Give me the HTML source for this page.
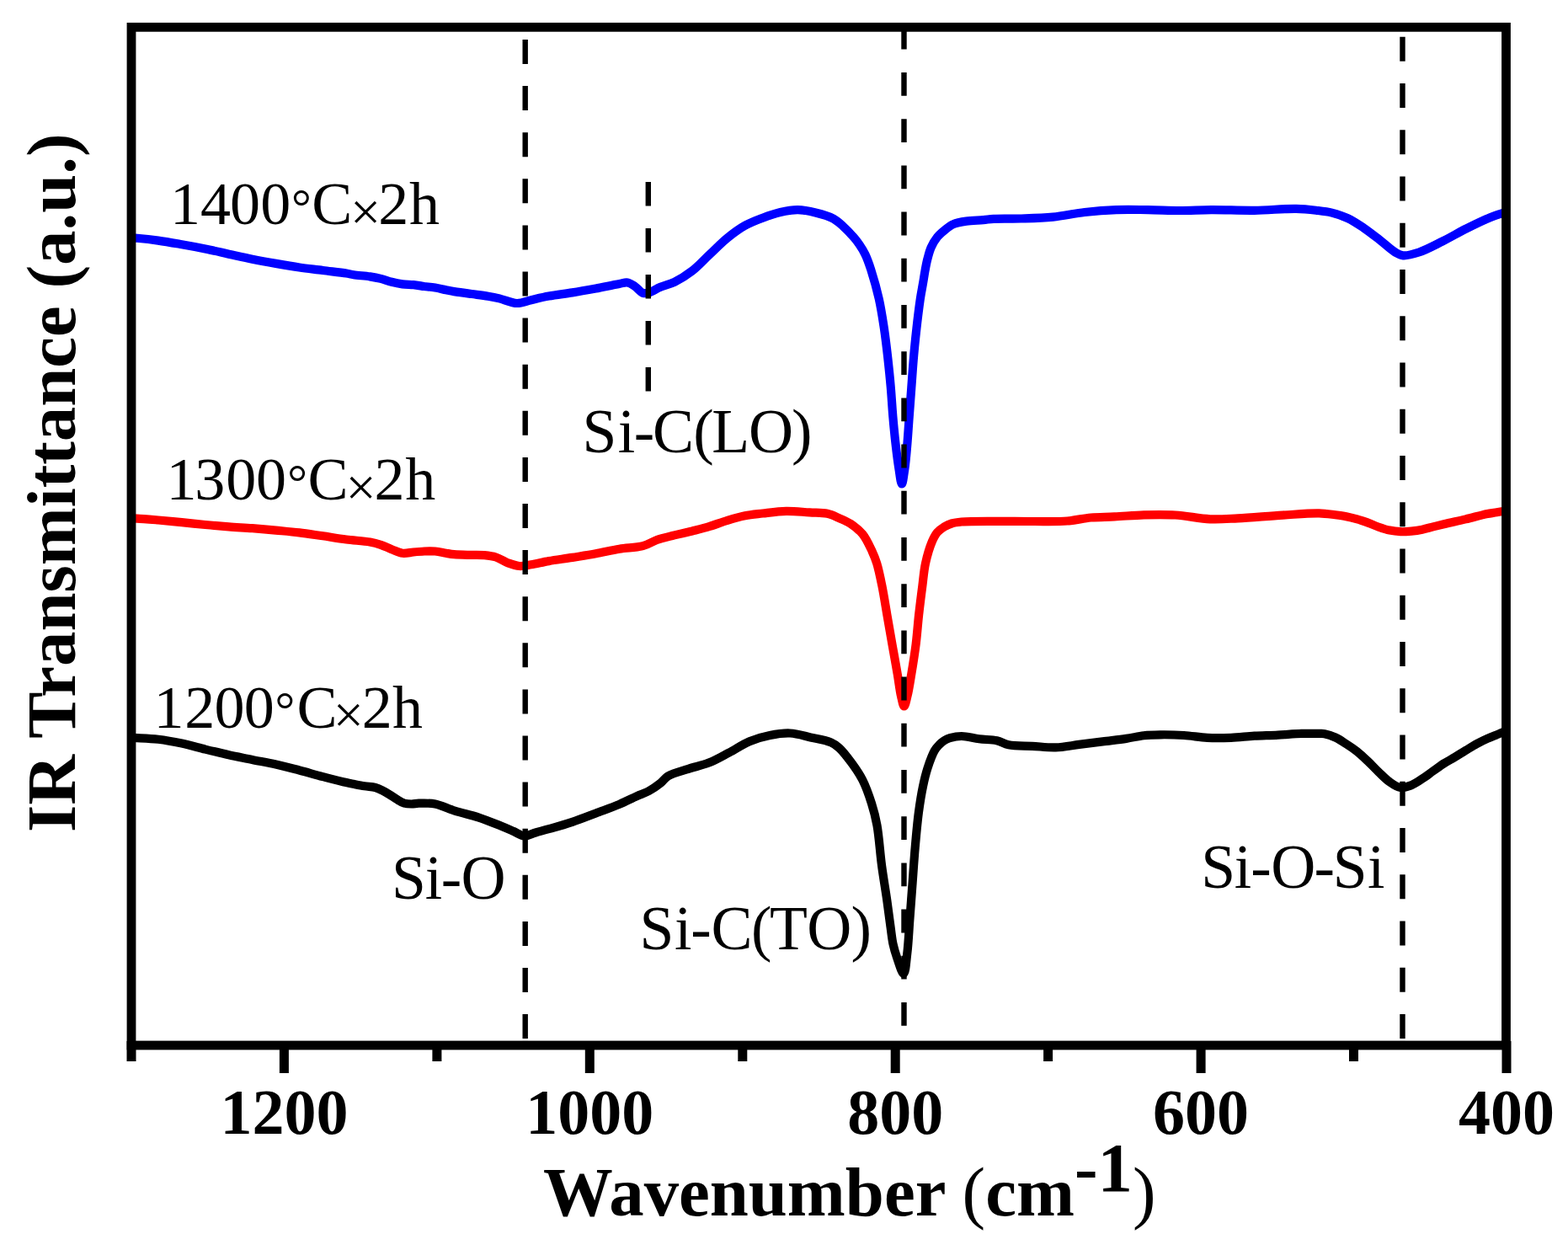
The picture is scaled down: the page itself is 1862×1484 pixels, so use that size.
<!DOCTYPE html>
<html><head><meta charset="utf-8"><title>IR Transmittance</title>
<style>
html,body{margin:0;padding:0;background:#fff;}
body{width:1862px;height:1484px;overflow:hidden;}
svg{display:block;}
</style></head><body>
<svg width="1862" height="1484" viewBox="0 0 1862 1484" font-family="'Liberation Serif','Times New Roman',serif" fill="#000">
<rect x="0" y="0" width="1862" height="1484" fill="#fff"/>
<path d="M156.0,282.4 C158.3,282.5 159.8,282.5 162.8,282.8 C168.5,283.3 179.3,284.4 187.9,285.6 C197.0,286.9 206.6,288.6 215.9,290.2 C225.2,291.8 234.5,293.5 243.8,295.4 C253.1,297.3 262.4,299.6 271.7,301.7 C281.0,303.7 290.3,305.8 299.6,307.7 C308.9,309.6 318.3,311.3 327.6,312.9 C336.9,314.5 346.2,316.1 355.5,317.5 C364.8,318.8 374.1,319.8 383.4,321.0 C392.7,322.2 404.7,323.4 411.3,324.5 C415.0,325.1 416.5,325.8 420.0,326.3 C425.2,327.1 433.5,327.5 439.3,328.4 C444.0,329.1 447.9,329.8 452.2,330.9 C456.5,332.0 460.8,333.7 465.1,334.8 C469.4,335.9 473.7,336.8 478.0,337.4 C482.3,338.0 486.6,337.8 490.9,338.2 C495.2,338.6 499.5,339.4 503.8,340.0 C508.1,340.5 512.4,340.8 516.7,341.5 C521.0,342.2 525.6,343.4 529.6,344.2 C533.0,344.9 535.4,345.5 539.2,346.1 C544.8,347.0 553.2,348.1 560.0,349.0 C566.6,349.9 573.7,350.7 579.6,351.7 C584.5,352.5 588.1,353.2 593.0,354.4 C599.2,355.9 607.4,359.9 614.0,360.0 C619.9,360.1 624.9,357.5 630.8,356.2 C637.4,354.7 644.2,353.0 651.7,351.6 C660.3,350.0 670.3,348.9 679.6,347.4 C688.9,345.9 698.3,344.2 707.6,342.5 C716.9,340.7 728.6,338.1 735.5,336.9 C739.6,336.2 742.2,335.0 745.2,335.5 C748.2,336.0 750.8,337.9 753.6,339.7 C756.9,341.8 760.2,346.8 763.4,347.8 C765.8,348.6 767.7,348.1 770.4,347.4 C774.3,346.4 779.4,342.8 784.3,340.8 C789.5,338.6 795.2,337.6 800.9,334.8 C807.7,331.5 815.1,326.8 821.9,321.6 C829.2,316.0 835.8,308.5 842.8,302.0 C849.8,295.5 856.6,288.3 863.8,282.5 C870.6,277.0 877.5,271.8 884.7,267.8 C891.5,264.0 898.6,261.4 905.7,258.7 C912.6,256.1 919.6,253.6 926.6,252.0 C933.5,250.4 940.5,249.1 947.5,249.2 C954.5,249.3 961.6,250.8 968.5,252.5 C975.5,254.2 983.7,256.4 989.4,259.5 C994.1,262.0 997.2,265.1 1001.0,268.5 C1005.3,272.4 1010.4,277.7 1013.9,281.8 C1016.6,284.9 1018.5,287.3 1020.6,290.5 C1023.0,294.0 1025.3,297.6 1027.4,302.0 C1029.9,307.2 1031.9,312.9 1034.2,320.0 C1037.3,329.7 1041.2,343.3 1043.8,355.0 C1046.4,366.6 1048.1,378.3 1049.9,390.0 C1051.6,401.7 1053.0,413.4 1054.3,425.1 C1055.6,436.8 1056.8,448.4 1057.8,460.1 C1058.8,471.8 1059.4,483.4 1060.4,495.1 C1061.4,506.8 1062.6,519.4 1063.9,530.2 C1065.0,539.6 1066.1,548.5 1067.4,556.4 C1068.5,563.0 1069.7,574.5 1070.9,574.5 C1072.1,574.5 1073.4,563.0 1074.4,556.4 C1075.6,548.5 1076.3,539.6 1077.1,530.2 C1078.1,519.4 1078.8,506.8 1079.7,495.1 C1080.6,483.4 1081.4,471.8 1082.3,460.1 C1083.2,448.4 1083.9,436.8 1084.9,425.1 C1085.9,413.4 1087.1,401.7 1088.4,390.0 C1089.7,378.3 1091.4,364.6 1092.8,355.0 C1093.8,348.2 1094.8,343.4 1095.8,337.7 C1096.8,332.1 1097.6,326.2 1098.6,320.9 C1099.5,316.1 1100.2,311.9 1101.4,307.4 C1102.6,302.9 1103.7,298.2 1105.6,293.9 C1107.5,289.6 1110.1,285.1 1112.9,281.6 C1115.5,278.4 1118.4,276.0 1121.5,273.5 C1124.8,270.9 1128.1,268.0 1132.2,266.2 C1136.7,264.2 1141.9,263.4 1147.4,262.6 C1153.6,261.7 1161.7,261.7 1167.6,261.2 C1172.2,260.8 1174.9,260.1 1180.0,259.8 C1188.3,259.3 1201.5,259.8 1212.8,259.5 C1224.9,259.1 1237.9,258.8 1250.4,257.6 C1263.0,256.3 1275.4,253.4 1288.0,252.0 C1300.5,250.6 1313.1,249.6 1325.6,249.1 C1338.1,248.6 1350.7,249.0 1363.2,249.1 C1375.7,249.2 1388.3,250.0 1400.8,250.0 C1413.3,250.0 1424.8,249.2 1438.3,249.1 C1454.1,249.0 1472.6,250.0 1489.6,249.8 C1506.3,249.6 1525.8,247.5 1539.3,247.8 C1548.6,248.0 1555.4,248.8 1562.8,249.7 C1569.4,250.5 1575.4,251.1 1581.6,252.6 C1587.9,254.2 1594.3,256.2 1600.4,259.1 C1606.8,262.1 1613.0,266.3 1619.2,270.4 C1625.6,274.7 1631.8,279.7 1638.0,284.5 C1644.3,289.4 1651.4,296.3 1656.8,299.5 C1660.3,301.5 1662.5,303.0 1666.2,303.3 C1671.3,303.8 1678.2,301.7 1685.0,299.5 C1693.6,296.7 1703.9,291.0 1713.2,286.4 C1722.7,281.7 1731.9,276.1 1741.4,271.4 C1750.7,266.7 1761.0,261.6 1769.5,258.2 C1776.2,255.5 1781.8,253.9 1788.0,251.8" fill="none" stroke="#0000ff" stroke-width="10.2" stroke-linejoin="round" stroke-linecap="butt"/>
<path d="M156.0,615.3 C158.3,615.4 159.8,615.4 162.8,615.6 C168.5,615.9 179.3,616.8 187.9,617.5 C197.0,618.3 206.6,619.3 215.9,620.2 C225.2,621.1 234.5,622.1 243.8,623.0 C253.1,623.9 262.4,624.7 271.7,625.4 C281.0,626.1 290.3,626.5 299.6,627.2 C308.9,627.9 318.3,628.7 327.6,629.6 C336.9,630.5 346.2,631.3 355.5,632.4 C364.8,633.5 374.1,635.0 383.4,636.3 C392.7,637.7 402.0,639.3 411.3,640.5 C420.6,641.7 431.8,642.1 439.3,643.5 C444.5,644.4 448.0,645.4 452.2,646.8 C456.6,648.3 460.8,650.5 465.1,652.2 C469.4,653.8 473.6,656.2 478.0,656.7 C482.2,657.2 486.6,655.9 490.9,655.5 C495.2,655.1 499.5,654.7 503.8,654.5 C508.1,654.3 512.4,654.1 516.7,654.5 C521.0,654.9 525.6,656.0 529.6,656.7 C533.0,657.3 535.6,657.9 539.2,658.2 C543.8,658.6 549.4,658.7 555.0,658.8 C561.3,659.0 568.9,658.5 574.9,659.1 C580.0,659.6 584.3,660.0 588.9,661.5 C593.7,663.0 598.1,666.4 602.8,668.2 C607.4,669.9 612.1,671.7 616.8,672.0 C621.4,672.3 625.7,671.1 630.8,670.3 C637.1,669.3 644.2,667.4 651.7,666.1 C660.3,664.6 670.3,663.4 679.6,661.9 C688.9,660.4 698.3,659.0 707.6,657.3 C716.9,655.6 726.2,653.2 735.5,651.7 C744.8,650.2 755.4,650.4 763.4,648.2 C769.8,646.5 774.1,643.1 780.0,641.0 C786.5,638.7 793.9,637.2 800.9,635.4 C807.9,633.7 814.9,632.2 821.9,630.5 C828.9,628.7 835.9,627.0 842.8,624.9 C849.8,622.8 856.8,620.0 863.8,617.9 C870.7,615.8 877.7,613.7 884.7,612.3 C891.6,610.9 898.2,610.4 905.7,609.5 C914.3,608.5 924.3,607.0 933.6,606.8 C942.9,606.6 952.9,607.9 961.5,608.4 C969.0,608.9 976.3,608.4 982.5,609.8 C987.7,610.9 991.8,613.1 996.4,615.1 C1001.1,617.2 1005.9,619.1 1010.4,622.1 C1015.2,625.3 1020.3,629.1 1024.3,634.0 C1028.8,639.5 1032.5,647.9 1035.5,654.2 C1037.9,659.4 1039.5,663.1 1041.2,668.8 C1043.5,676.2 1045.4,685.7 1047.3,695.1 C1049.5,705.9 1051.4,718.4 1053.4,730.1 C1055.4,741.8 1057.5,753.4 1059.5,765.1 C1061.6,776.8 1063.9,789.3 1065.7,800.2 C1067.3,809.6 1068.4,819.4 1070.0,826.4 C1071.1,831.2 1072.4,838.5 1073.6,838.5 C1074.9,838.5 1076.3,831.3 1077.5,826.4 C1079.3,819.4 1080.7,809.6 1082.3,800.2 C1084.1,789.4 1086.1,776.8 1087.6,765.1 C1089.1,753.4 1089.8,741.8 1091.1,730.1 C1092.4,718.4 1094.0,705.9 1095.4,695.1 C1096.6,685.7 1097.1,677.5 1099.0,668.8 C1100.9,660.1 1104.0,649.7 1106.8,643.0 C1108.8,638.4 1110.5,635.0 1113.0,632.0 C1115.3,629.3 1118.1,627.5 1120.9,625.7 C1123.7,624.0 1126.7,622.5 1130.0,621.5 C1133.6,620.4 1136.7,620.0 1141.9,619.5 C1151.6,618.6 1169.8,618.9 1183.8,618.8 C1197.8,618.7 1211.7,619.1 1225.7,619.0 C1239.6,618.9 1255.0,619.5 1267.5,618.5 C1277.8,617.7 1286.2,615.3 1295.5,614.5 C1304.8,613.7 1313.6,613.9 1323.4,613.4 C1334.4,612.9 1346.5,611.6 1358.3,611.3 C1370.5,611.0 1382.9,610.7 1395.7,611.5 C1409.1,612.3 1424.0,615.7 1437.0,616.3 C1448.6,616.8 1457.7,615.9 1470.0,615.3 C1485.6,614.5 1506.4,612.6 1523.2,611.6 C1538.3,610.7 1554.9,609.1 1566.4,609.4 C1574.2,609.6 1580.0,610.6 1585.8,611.3 C1590.5,611.9 1594.4,612.4 1598.7,613.2 C1603.0,614.1 1607.3,615.2 1611.6,616.4 C1615.9,617.6 1620.1,619.1 1624.4,620.6 C1628.7,622.2 1633.0,624.2 1637.3,625.7 C1641.6,627.2 1645.9,628.7 1650.2,629.6 C1654.5,630.5 1658.8,631.0 1663.1,631.2 C1667.4,631.4 1671.7,631.0 1676.0,630.6 C1680.3,630.2 1684.6,629.6 1688.9,628.7 C1693.2,627.8 1697.5,626.5 1701.8,625.4 C1706.1,624.3 1709.7,623.4 1714.7,622.2 C1721.8,620.5 1731.9,618.4 1740.5,616.4 C1749.1,614.4 1758.0,611.7 1766.2,610.0 C1773.7,608.5 1780.7,607.7 1788.0,606.5" fill="none" stroke="#ff0000" stroke-width="10.2" stroke-linejoin="round" stroke-linecap="butt"/>
<path d="M156.0,875.8 C158.3,875.9 159.8,875.9 162.8,876.1 C168.5,876.4 179.3,876.7 187.9,877.7 C197.0,878.8 206.6,880.6 215.9,882.6 C225.2,884.6 234.5,887.3 243.8,889.6 C253.1,891.9 262.4,894.2 271.7,896.3 C281.0,898.3 290.3,900.0 299.6,901.9 C308.9,903.8 318.3,905.4 327.6,907.5 C336.9,909.6 346.2,912.1 355.5,914.5 C364.8,916.9 374.1,919.7 383.4,922.1 C392.7,924.5 404.6,927.6 411.3,929.1 C415.0,929.9 416.8,930.2 420.0,930.8 C423.9,931.6 428.6,932.6 432.9,933.3 C437.2,934.0 442.0,934.0 445.8,935.0 C449.0,935.9 451.6,937.2 454.4,938.6 C457.3,940.0 460.2,941.8 463.0,943.6 C465.9,945.4 468.7,947.5 471.6,949.2 C474.4,950.9 477.3,952.8 480.2,953.7 C483.0,954.5 485.9,954.5 488.7,954.5 C491.6,954.5 493.9,953.8 497.3,953.7 C502.5,953.6 510.1,953.2 516.8,954.5 C524.3,955.9 531.9,960.1 540.0,962.6 C548.8,965.4 558.7,967.3 567.9,970.3 C577.3,973.4 588.2,977.9 595.9,981.0 C601.4,983.2 605.4,985.0 610.0,987.0 C614.3,988.9 618.3,992.2 622.6,992.5 C627.0,992.8 631.3,989.8 636.0,988.5 C641.0,987.1 645.7,985.9 651.7,984.2 C659.7,981.9 670.3,978.9 679.6,975.8 C689.0,972.7 698.3,968.9 707.6,965.4 C716.9,961.9 726.9,958.5 735.5,954.9 C743.0,951.7 750.1,947.9 756.4,945.1 C761.5,942.8 765.9,941.6 770.4,939.1 C775.2,936.5 780.3,933.0 784.3,929.8 C787.8,927.0 789.2,923.8 793.3,921.3 C799.2,917.7 809.4,915.4 817.5,912.8 C825.5,910.2 833.8,908.7 841.7,905.6 C849.9,902.4 857.8,897.7 865.8,893.5 C873.9,889.2 881.7,883.7 890.0,880.2 C897.9,876.9 906.1,874.6 914.2,873.0 C922.2,871.4 930.3,870.1 938.3,870.5 C946.4,870.9 954.5,873.6 962.5,875.4 C970.6,877.2 980.6,878.7 986.7,881.4 C990.9,883.2 993.1,884.9 996.4,887.8 C1000.9,891.8 1005.9,898.4 1010.4,904.5 C1015.3,911.1 1020.3,918.1 1024.3,926.0 C1028.6,934.5 1032.1,944.7 1035.0,953.9 C1037.8,962.7 1039.7,970.0 1041.5,980.0 C1043.9,993.4 1045.0,1012.0 1047.0,1027.2 C1048.9,1041.6 1051.5,1056.1 1053.3,1069.0 C1054.9,1080.2 1056.2,1090.9 1057.5,1100.3 C1058.6,1108.0 1059.2,1114.9 1060.6,1121.2 C1061.8,1126.6 1063.0,1130.7 1064.8,1135.9 C1067.0,1142.1 1071.0,1156.2 1073.1,1156.0 C1075.3,1155.8 1076.2,1140.9 1077.3,1131.7 C1078.8,1119.7 1079.4,1103.8 1080.5,1089.9 C1081.5,1076.0 1082.6,1062.0 1083.6,1048.1 C1084.6,1034.2 1085.5,1020.2 1086.7,1006.3 C1087.9,992.4 1089.2,977.4 1090.9,964.5 C1092.4,953.3 1094.1,942.5 1096.1,933.1 C1097.7,925.4 1099.2,919.1 1101.4,912.2 C1103.7,905.2 1106.9,896.2 1109.7,891.3 C1111.4,888.3 1113.0,886.5 1115.0,884.5 C1116.9,882.5 1119.0,880.7 1121.2,879.3 C1123.3,878.0 1125.2,877.0 1127.9,876.2 C1131.7,875.1 1136.8,874.0 1141.9,874.0 C1148.2,874.0 1155.8,876.4 1162.8,877.3 C1169.8,878.2 1177.6,877.8 1183.8,879.2 C1189.0,880.4 1192.2,883.2 1197.7,884.3 C1205.3,885.9 1216.4,885.3 1225.7,885.8 C1235.0,886.3 1244.3,887.7 1253.6,887.4 C1262.9,887.1 1272.2,885.1 1281.5,883.9 C1290.8,882.7 1300.1,881.6 1309.4,880.4 C1318.7,879.2 1328.8,878.2 1337.4,876.9 C1344.9,875.8 1351.4,874.0 1358.3,873.2 C1364.9,872.5 1370.8,872.4 1377.9,872.3 C1386.4,872.2 1396.6,872.4 1405.9,873.0 C1415.2,873.6 1424.5,875.3 1433.8,875.8 C1443.1,876.3 1452.4,876.1 1461.7,875.8 C1471.0,875.5 1480.3,874.2 1489.6,873.7 C1498.9,873.2 1508.3,873.1 1517.6,872.6 C1526.9,872.1 1536.9,871.2 1545.5,870.9 C1553.0,870.7 1561.4,870.8 1566.4,870.9 C1569.2,871.0 1570.4,870.7 1572.9,871.2 C1576.5,871.9 1581.6,873.6 1585.8,875.5 C1590.2,877.5 1594.4,880.5 1598.7,883.2 C1603.1,886.0 1607.4,888.9 1611.6,892.2 C1616.0,895.7 1620.2,899.8 1624.4,903.8 C1628.7,907.9 1632.9,912.6 1637.3,916.7 C1641.5,920.7 1645.7,925.2 1650.2,928.3 C1654.3,931.2 1658.7,934.4 1663.1,935.0 C1667.3,935.6 1671.8,933.8 1676.0,932.2 C1680.4,930.4 1684.7,927.3 1688.9,924.5 C1693.3,921.7 1697.5,918.4 1701.8,915.4 C1706.1,912.4 1710.3,909.2 1714.7,906.4 C1718.9,903.7 1723.3,901.5 1727.6,898.9 C1731.9,896.3 1736.2,893.5 1740.5,890.9 C1744.8,888.3 1749.0,885.6 1753.3,883.2 C1757.5,880.9 1761.9,878.7 1766.2,876.8 C1770.5,874.9 1775.2,873.2 1779.1,871.6 C1782.3,870.3 1785.0,869.2 1788.0,868.0" fill="none" stroke="#000000" stroke-width="10.2" stroke-linejoin="round" stroke-linecap="butt"/>
<path d="M623.7,47.0 V76.0 M623.7,102.1 V131.1 M623.7,157.2 V186.2 M623.7,212.3 V241.3 M623.7,267.4 V296.4 M623.7,322.5 V351.5 M623.7,377.6 V406.6 M623.7,432.7 V461.7 M623.7,487.8 V516.8 M623.7,542.9 V571.9 M623.7,598.0 V627.0 M623.7,653.1 V682.1 M623.7,708.2 V737.2 M623.7,763.3 V792.3 M623.7,818.4 V847.4 M623.7,873.5 V902.5 M623.7,928.6 V957.6 M623.7,983.7 V1012.7 M623.7,1038.8 V1067.8 M623.7,1093.9 V1122.9 M623.7,1149.0 V1178.0 M623.7,1204.1 V1233.1 M1073.5,30.8 V58.6 M1073.5,86.0 V113.8 M1073.5,141.2 V169.0 M1073.5,196.4 V224.2 M1073.5,251.6 V279.4 M1073.5,306.8 V334.6 M1073.5,362.0 V389.8 M1073.5,417.2 V445.0 M1073.5,472.4 V500.2 M1073.5,527.6 V555.4 M1073.5,582.8 V610.6 M1073.5,638.0 V665.8 M1073.5,693.2 V721.0 M1073.5,748.4 V776.2 M1073.5,803.6 V831.4 M1073.5,858.8 V886.6 M1073.5,914.0 V941.8 M1073.5,969.2 V997.0 M1073.5,1024.4 V1052.2 M1073.5,1079.6 V1107.4 M1073.5,1134.8 V1162.6 M1073.5,1190.0 V1217.8 M769.8,216.0 V244.5 M769.8,271.0 V299.5 M769.8,326.0 V354.5 M769.8,381.0 V409.5 M769.8,436.0 V464.5 M1665.5,43.7 V72.7 M1665.5,99.0 V128.0 M1665.5,154.2 V183.2 M1665.5,209.4 V238.4 M1665.5,264.7 V293.7 M1665.5,319.9 V348.9 M1665.5,375.2 V404.2 M1665.5,430.4 V459.4 M1665.5,485.7 V514.7 M1665.5,541.0 V570.0 M1665.5,596.2 V625.2 M1665.5,651.5 V680.5 M1665.5,706.7 V735.7 M1665.5,762.0 V791.0 M1665.5,817.2 V846.2 M1665.5,872.5 V901.5 M1665.5,927.7 V956.7 M1665.5,983.0 V1012.0 M1665.5,1038.2 V1067.2 M1665.5,1093.5 V1122.5 M1665.5,1148.7 V1177.7 M1665.5,1204.0 V1233.0" stroke="#000" stroke-width="6.4" fill="none"/>
<rect x="156" y="32.3" width="1632.5" height="1208.7" fill="none" stroke="#000" stroke-width="10.8"/>
<path d="M156.0,1236 V1260 M518.9,1236 V1260 M881.8,1236 V1260 M1244.6,1236 V1260 M1607.5,1236 V1260 M337.4,1236 V1274 M700.3,1236 V1274 M1063.2,1236 V1274 M1426.1,1236 V1274 M1789.0,1236 V1274" stroke="#000" stroke-width="11" fill="none"/>
<text x="337.4" y="1346" font-size="76" font-weight="bold" text-anchor="middle">1200</text>
<text x="700.3" y="1346" font-size="76" font-weight="bold" text-anchor="middle">1000</text>
<text x="1063.2" y="1346" font-size="76" font-weight="bold" text-anchor="middle">800</text>
<text x="1426.1" y="1346" font-size="76" font-weight="bold" text-anchor="middle">600</text>
<text x="1789.0" y="1346" font-size="76" font-weight="bold" text-anchor="middle">400</text>
<text x="645" y="1443" font-size="82.8" font-weight="bold">Wavenumber <tspan font-weight="normal">(</tspan>cm<tspan dy="-29">-1</tspan><tspan dy="29" font-weight="normal">)</tspan></text>
<text transform="translate(89,988) rotate(-90)" x="0" y="0" font-size="82.8" font-weight="bold">IR Transmittance (a.u.)</text>
<text font-size="72.0"><tspan x="202.0" y="266.4">1</tspan><tspan x="238.1" y="266.4">4</tspan><tspan x="273.0" y="266.4">0</tspan><tspan x="309.2" y="266.4">0</tspan><tspan x="345.9" y="265.7" font-size="59.4">°</tspan><tspan x="370.3" y="266.4">C</tspan><tspan x="415.9" y="273.1" font-size="64.0">×</tspan><tspan x="449.2" y="266.4">2</tspan><tspan x="486.0" y="266.4">h</tspan></text>
<text font-size="72.0"><tspan x="197.6" y="593.3">1</tspan><tspan x="231.2" y="593.3">3</tspan><tspan x="268.2" y="593.3">0</tspan><tspan x="303.9" y="593.3">0</tspan><tspan x="341.2" y="592.6" font-size="59.4">°</tspan><tspan x="365.4" y="593.3">C</tspan><tspan x="410.5" y="600.0" font-size="64.0">×</tspan><tspan x="444.4" y="593.3">2</tspan><tspan x="481.2" y="593.3">h</tspan></text>
<text font-size="72.0"><tspan x="182.5" y="863.6">1</tspan><tspan x="219.2" y="863.6">2</tspan><tspan x="254.4" y="863.6">0</tspan><tspan x="289.7" y="863.6">0</tspan><tspan x="326.4" y="862.9" font-size="59.4">°</tspan><tspan x="352.5" y="863.6">C</tspan><tspan x="395.8" y="870.3" font-size="64.0">×</tspan><tspan x="429.7" y="863.6">2</tspan><tspan x="466.0" y="863.6">h</tspan></text>
<text font-size="73.5"><tspan x="691.6" y="536.6">S</tspan><tspan x="733.8" y="536.6">i</tspan><tspan x="752.7" y="536.6">-</tspan><tspan x="774.9" y="536.6">C</tspan><tspan x="823.2" y="536.6">(</tspan><tspan x="845.2" y="536.6">L</tspan><tspan x="889.1" y="536.6">O</tspan><tspan x="940.0" y="536.6">)</tspan></text>
<text font-size="73.5"><tspan x="465.0" y="1066.6">S</tspan><tspan x="504.8" y="1066.6">i</tspan><tspan x="523.8" y="1066.6">-</tspan><tspan x="547.6" y="1066.6">O</tspan></text>
<text font-size="73.5"><tspan x="759.6" y="1126.8">S</tspan><tspan x="801.0" y="1126.8">i</tspan><tspan x="820.3" y="1126.8">-</tspan><tspan x="844.5" y="1126.8">C</tspan><tspan x="892.0" y="1126.8">(</tspan><tspan x="913.9" y="1126.8">T</tspan><tspan x="958.3" y="1126.8">O</tspan><tspan x="1010.4" y="1126.8">)</tspan></text>
<text font-size="73.5"><tspan x="1426.3" y="1054.2">S</tspan><tspan x="1465.8" y="1054.2">i</tspan><tspan x="1485.3" y="1054.2">-</tspan><tspan x="1509.3" y="1054.2">O</tspan><tspan x="1560.5" y="1054.2">-</tspan><tspan x="1582.7" y="1054.2">S</tspan><tspan x="1624.0" y="1054.2">i</tspan></text>
</svg>
</body></html>
